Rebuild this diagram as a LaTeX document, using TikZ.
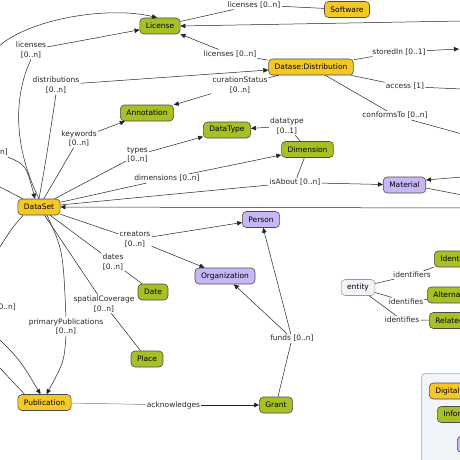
\documentclass[tikz,border=0pt]{standalone}
\usepackage{fontspec}
\setmainfont{DejaVu Sans}
\usepackage{xcolor}
\usepackage{tikz}
\usetikzlibrary{arrows.meta, positioning, shapes.geometric}
\definecolor{dsyellow}{RGB}{245,200,40}
\definecolor{dsgreen}{RGB}{168,192,35}
\definecolor{dspurple}{RGB}{200,182,246}
\definecolor{dsedge}{RGB}{35,35,35}
\definecolor{dsframe}{RGB}{75,75,75}
\definecolor{dslegend}{RGB}{241,244,248}

\begin{document}
\begin{tikzpicture}[
  x=1pt, y=-1pt,
  cls/.style={rectangle, rounded corners=4pt, draw=dsframe, line width=0.6pt,
              font=\fontsize{7.5}{9}\selectfont, minimum height=16pt,
              inner xsep=6pt, inner ysep=2pt},
  digital/.style={cls, fill=dsyellow},
  infobj/.style={cls, fill=dsgreen},
  physobj/.style={cls, fill=dspurple},
  entbox/.style={cls, fill=dslegend, draw=gray!80},
  legendbox/.style={rectangle, rounded corners=4pt, draw=gray!70, fill=dslegend,
                    line width=0.6pt},
  lbl/.style={font=\fontsize{7.5}{9.5}\selectfont, text=black!85,
              align=center, inner sep=1pt},
  rel/.style={-{Triangle[length=5pt,width=4.5pt]}, draw=dsedge, line width=0.5pt},
  plain/.style={draw=dsedge, line width=0.5pt},
]
\useasboundingbox (0,0) rectangle (460,460);
\clip (0,0) rectangle (460,460);

% Classes
\node[infobj]  (license)  at (160,26)    {License};
\node[digital] (software) at (347,9.5)   {Software};
\node[digital] (distrib)  at (311,67)    {Datase:Distribution};
\node[infobj]  (annot)    at (147,113)   {Annotation};
\node[infobj]  (dtype)    at (227,130)   {DataType};
\node[infobj]  (dimen)    at (307.5,149.5) {Dimension};
\node[physobj] (material) at (404.5,185) {Material};
\node[digital] (dataset)  at (39,207)    {DataSet};
\node[physobj] (person)   at (261,219.5) {Person};
\node[physobj] (org)      at (225,276)   {Organization};
\node[infobj]  (date)     at (153,292)   {Date};
\node[infobj]  (place)    at (147,359)   {Place};
\node[digital] (pub)      at (44.5,402.5) {Publication};
\node[infobj]  (grant)    at (276,405)   {Grant};
\node[entbox]  (entity)   at (358,287.5) {entity};
\node[infobj, anchor=west] (ident) at (434,259)   {Identifier};
\node[infobj, anchor=west] (altid) at (427,295)   {AlternateIdentifier};
\node[infobj, anchor=west] (relid) at (429,320.5) {RelatedIdentifier};

% Legend
\node[legendbox, anchor=north west, minimum width=110pt, minimum height=100pt]
     (legend) at (421,373) {};
\node[digital, anchor=west] (legdig) at (429,391)   {Digital Object};
\node[infobj,  anchor=west] (leginf) at (437,414.5) {Information Object};
\node[physobj, anchor=north west, minimum width=40pt] (legphy) at (457,436) {};

% Labels
\node[lbl] (l_swlic)   at (254,5)     {licenses [0..n]};
\node[lbl] (l_distlic) at (230,54)    {licenses [0..n]};
\node[lbl] (l_dslic)   at (31,50)     {licenses\\{}[0..n]};
\node[lbl] (l_dist)    at (56,85)     {distributions\\{}[0..n]};
\node[lbl] (l_cur)     at (240,85)    {curationStatus\\{}[0..n]};
\node[lbl] (l_stor)    at (399,52)    {storedIn [0..1]};
\node[lbl] (l_acc)     at (405,86.5)  {access [1]};
\node[lbl] (l_conf)    at (395,115.5) {conformsTo [0..n]};
\node[lbl] (l_kw)      at (79,138.5)  {keywords\\{}[0..n]};
\node[lbl] (l_types)   at (137.5,155) {types\\{}[0..n]};
\node[lbl] (l_dtype)   at (287,126)   {datatype\\{}[0..1]};
\node[lbl] (l_dim)     at (167,178.5) {dimensions [0..n]};
\node[lbl] (l_about)   at (295,182.5) {isAbout [0..n]};
\node[lbl] (l_creat)   at (135,239.5) {creators\\{}[0..n]};
\node[lbl] (l_dates)   at (113,262)   {dates\\{}[0..n]};
\node[lbl] (l_spat)    at (104,304)   {spatialCoverage\\{}[0..n]};
\node[lbl] (l_ppub)    at (66,326.5)  {primaryPublications\\{}[0..n]};
\node[lbl] (l_funds)   at (292,338.5) {funds [0..n]};
\node[lbl] (l_ack)     at (173.5,405) {acknowledges};
\node[lbl] (l_idf)     at (412,275)   {identifiers};
\node[lbl] (l_ids1)    at (406,301.5) {identifies};
\node[lbl] (l_ids2)    at (402,320)   {identifies};
\node[lbl, anchor=east] (l_left1) at (9,152.5) {[0..n]};
\node[lbl, anchor=east] (l_left2) at (17,307)  {[0..n]};

% Off-picture ends
\coordinate (e_lic)  at (462,21);
\coordinate (e_stor) at (459,49);
\coordinate (e_acc)  at (462,89);
\coordinate (e_conf) at (462,134);
\coordinate (e_mat1) at (462,177);
\coordinate (e_mat2) at (462,195);
\coordinate (e_ds)   at (462,208);
\coordinate (w_lic)  at (-2,47);
\coordinate (w_ds1)  at (-2,186);
\coordinate (w_ds2)  at (-2,250);
\coordinate (w_pub1) at (-2,338);
\coordinate (w_pub2) at (-2,366);

% ── License ──
\draw[plain] (software) -- (l_swlic);
\draw[plain] (l_swlic) -- (license);
\draw[rel] (e_lic) -- (license.east);
\draw[plain] (distrib) -- (l_distlic);
\draw[rel] (l_distlic) -- (license);
\draw[plain] (dataset.north) .. controls (15,150) and (12,100) .. (l_dslic.south);
\draw[rel] (l_dslic) -- (license);
\draw[rel] (w_lic) .. controls (30,18) and (110,6) .. ([xshift=-3pt]license.north);

% ── Distribution ──
\draw[plain] (dataset.north) .. controls (46,160) .. (l_dist.south);
\draw[rel] (l_dist) -- (distrib);
\draw[plain] (distrib) -- (l_cur);
\draw[rel] (l_cur) -- (annot);
\draw[plain] (distrib) -- (l_stor);
\draw[rel] (l_stor) -- (e_stor);
\draw[plain] (distrib) -- (l_acc);
\draw[plain] (l_acc) -- (e_acc);
\draw[plain] (distrib) -- (l_conf);
\draw[plain] (l_conf) -- (e_conf);

% ── DataSet properties ──
\draw[plain] (dataset) -- (l_kw);
\draw[rel] (l_kw) -- (annot);
\draw[plain] (dataset) -- (l_types);
\draw[rel] (l_types) -- (dtype);
\draw[plain] (dataset) -- (l_dim);
\draw[rel] (l_dim) -- (dimen);
\draw[plain] (dimen) -- (l_dtype);
\draw[rel] (l_dtype) -- (dtype);
\draw[plain] (dataset) -- (l_about);
\draw[plain] (dimen) -- (l_about);
\draw[rel] (l_about) -- (material);
\draw[rel] (e_mat1) -- ([yshift=5pt]material.east);
\draw[plain] ([yshift=-3pt]material.east) -- (e_mat2);
\draw[rel] (e_ds) -- (dataset.east);
\draw[plain] (dataset) -- (l_creat);
\draw[rel] (l_creat) -- (person);
\draw[rel] (l_creat) -- (org);
\draw[plain] (dataset) -- (l_dates);
\draw[plain] (l_dates) -- (date);
\draw[plain] (dataset) -- (l_spat);
\draw[plain] (l_spat) -- (place);
\draw[plain] ([xshift=8pt]dataset.south) .. controls (63,250) .. (l_ppub.north);
\draw[rel] (l_ppub.south) .. controls (64,362) .. ([xshift=2pt]pub.north);

% ── From the left ──
\draw[rel] (l_left1) .. controls (26,165) .. ([xshift=-4pt]dataset.north);
\draw[plain] (w_ds1) -- (dataset);
\draw[plain] ([xshift=-16pt]dataset.south) .. controls (12,228) .. (w_ds2);
\draw[rel] (w_pub1) .. controls (20,360) .. ([xshift=-4pt]pub.north);
\draw[plain] (w_pub2) -- ([xshift=-20pt]pub.north);

% ── Publication / Grant ──
\draw[plain, draw=gray] (pub) -- (l_ack);
\draw[rel] (l_ack) -- (grant);
\draw[plain] (grant) -- (l_funds);
\draw[rel] (l_funds) -- (person);
\draw[rel] (l_funds) -- (org);

% ── Identifiers ──
\draw[plain] (entity) -- (l_idf);
\draw[plain] (l_idf) -- (ident);
\draw[plain] (entity) -- (l_ids1);
\draw[plain] (l_ids1) -- (altid);
\draw[plain] (entity) -- (l_ids2);
\draw[plain] (l_ids2) -- (relid);

\end{tikzpicture}
\end{document}
